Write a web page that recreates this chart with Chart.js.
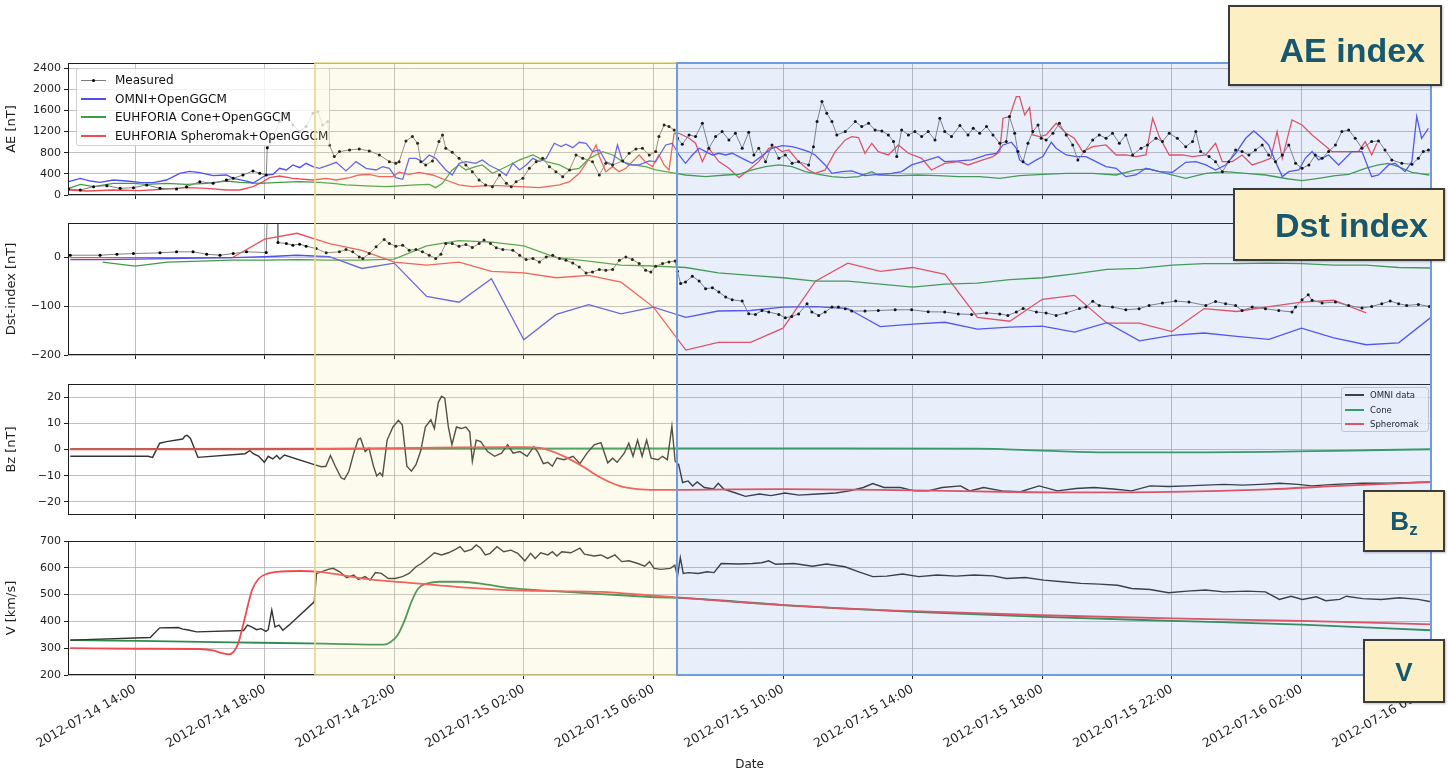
<!DOCTYPE html>
<html>
<head>
<meta charset="utf-8">
<title>AE, Dst, Bz and V, 14-16 July 2012</title>
<script src="https://cdn.jsdelivr.net/npm/chart.js@4.4.1/dist/chart.umd.min.js"></script>
<style>
  html, body { margin: 0; padding: 0; background: #fff; }
  #page { position: relative; width: 1450px; height: 776px; overflow: hidden; font-family: "DejaVu Sans", sans-serif; }
  #page canvas { position: absolute; left: 0; }
  .shade { position: absolute; box-sizing: border-box; pointer-events: none; }
  #shadeY { background: rgba(246, 230, 150, 0.17); border: 2px solid rgba(230, 214, 140, 0.8); border-right: none; }
  #shadeB { background: rgba(105, 145, 222, 0.15); border: 2px solid #6d9ddb; }
  .legend { position: absolute; background: rgba(255, 255, 255, 0.8); border: 1px solid #cfcfcf; border-radius: 3px; box-sizing: border-box; color: #111; }
  .legend .row { position: relative; white-space: nowrap; }
  .legend .sw { position: absolute; top: 50%; height: 0; border-top: 2px solid; }
  #lgAE { left: 76px; top: 68px; width: 254px; height: 78px; font-size: 12px; padding-top: 2px; }
  #lgAE .row { height: 18.5px; line-height: 18.5px; padding-left: 38px; }
  #lgAE .sw { left: 4px; width: 25px; margin-top: -1px; }
  #lgAE .sw.meas { border-top: 1px solid #7a7a7a; margin-top: 0; }
  #lgAE .sw.meas::after { content: ""; position: absolute; left: 11px; top: -2.5px; width: 3px; height: 3px; border-radius: 50%; background: #000; }
  #lgBz { left: 1341px; top: 387px; width: 88px; height: 45px; font-size: 9.5px; font-family: "DejaVu Sans Condensed", "DejaVu Sans", sans-serif; padding-top: 0; }
  #lgBz .row { height: 14.5px; line-height: 14.5px; padding-left: 28px; }
  #lgBz .sw { left: 3px; width: 19px; margin-top: -1px; }
  .tag { position: absolute; box-sizing: border-box; background: #fdefc4; border: 2px solid #3b3b3b; color: #17586f; font-family: "Liberation Sans", Arial, sans-serif; font-weight: bold; box-shadow: 1px 1px 2px rgba(0, 0, 0, 0.25); white-space: nowrap; }
  #tagAE { left: 1228px; top: 5px; width: 214px; height: 81px; font-size: 34px; line-height: 34px; text-align: right; padding: 26px 15px 0 0; }
  #tagDst { left: 1233px; top: 188px; width: 212px; height: 73px; font-size: 34px; line-height: 34px; text-align: right; padding: 18px 15px 0 0; }
  #tagBz { left: 1363px; top: 490px; width: 82px; height: 62px; font-size: 26px; line-height: 26px; text-align: center; padding-top: 16px; }
  #tagBz sub { font-size: 17px; vertical-align: -5px; line-height: 0; }
  #tagV { left: 1363px; top: 639px; width: 82px; height: 64px; font-size: 26px; line-height: 26px; text-align: center; padding-top: 18px; }
</style>
</head>
<body>
<div id="page">
  <canvas id="cAE" width="1450" height="157" style="top:50px"></canvas>
  <canvas id="cDst" width="1450" height="157" style="top:210px"></canvas>
  <canvas id="cBz" width="1450" height="156" style="top:371px"></canvas>
  <canvas id="cV" width="1450" height="248" style="top:528px"></canvas>

  <div id="lgAE" class="legend">
    <div class="row"><span class="sw meas"></span>Measured</div>
    <div class="row"><span class="sw" style="border-color:#4f4ff0"></span>OMNI+OpenGGCM</div>
    <div class="row"><span class="sw" style="border-color:#3f9c46"></span>EUHFORIA Cone+OpenGGCM</div>
    <div class="row"><span class="sw" style="border-color:#ee4b57"></span>EUHFORIA Spheromak+OpenGGCM</div>
  </div>
  <div id="lgBz" class="legend">
    <div class="row"><span class="sw" style="border-color:#333"></span>OMNI data</div>
    <div class="row"><span class="sw" style="border-color:#2f9a5a"></span>Cone</div>
    <div class="row"><span class="sw" style="border-color:#ee4a50"></span>Spheromak</div>
  </div>

  <div id="shadeY" class="shade"></div>
  <div id="shadeB" class="shade"></div>

  <div id="tagAE" class="tag">AE index</div>
  <div id="tagDst" class="tag">Dst index</div>
  <div id="tagBz" class="tag">B<sub>z</sub></div>
  <div id="tagV" class="tag">V</div>
</div>
<script>
// time axis: hours since 2012-07-14 00:00 UT
const xRange = [11.93, 54];
const xTickHours = [14, 18, 22, 26, 30, 34, 38, 42, 46, 50, 54];
const shadeYellow = [19.56, 30.72];
const shadeBlue = [30.72, 54];

// ---- AE index [nT]
const aeMeasT = [
  11.95,12.31,12.72,13.13,13.54,13.95,14.36,14.77,15.28,15.59,
  16.0,16.41,16.82,17.03,17.33,17.64,17.85,18.05,18.08,18.26,
  18.46,18.67,18.87,19.08,19.28,19.49,19.64,19.79,19.95,20.0,
  20.15,20.31,20.62,20.92,21.23,21.54,21.85,22.05,22.15,22.36,
  22.56,22.72,22.82,22.97,23.18,23.38,23.49,23.59,23.79,24.0,
  24.21,24.41,24.62,24.82,25.03,25.25,25.46,25.61,25.76,25.97,
  26.17,26.38,26.58,26.79,26.99,27.2,27.41,27.61,27.82,28.12,
  28.33,28.53,28.74,29.05,29.25,29.46,29.66,29.87,30.07,30.17,
  30.33,30.48,30.64,30.74,30.89,31.1,31.3,31.51,31.71,31.92,
  32.12,32.33,32.53,32.74,32.94,33.1,33.25,33.46,33.66,33.87,
  34.07,34.28,34.48,34.79,34.94,35.05,35.2,35.35,35.51,35.66,
  35.92,36.23,36.43,36.64,36.84,37.05,37.25,37.41,37.51,37.66,
  37.87,38.07,38.28,38.48,38.69,38.84,38.99,39.2,39.46,39.71,
  39.87,40.07,40.28,40.48,40.69,40.89,40.99,41.15,41.25,41.41,
  41.56,41.71,41.87,41.97,42.12,42.33,42.53,42.74,42.94,43.1,
  43.3,43.56,43.76,43.97,44.17,44.38,44.58,44.79,45.05,45.25,
  45.51,45.71,45.92,46.17,46.43,46.64,46.74,46.89,47.15,47.35,
  47.56,47.76,47.97,48.17,48.38,48.58,48.79,48.99,49.2,49.41,
  49.61,49.82,50.02,50.23,50.43,50.64,50.84,51.05,51.25,51.46,
  51.66,51.87,52.17,52.38,52.58,52.79,53.1,53.41,53.61,53.76,
  53.92];
const aeMeasV = [
  114,95,158,177,126,139,190,126,114,158,
  253,221,284,316,379,455,411,379,897,1074,
  1390,1548,1327,1201,1296,1548,1580,1327,1390,948,
  727,822,853,872,834,758,632,600,632,1024,
  1106,980,632,569,645,1011,1138,885,809,695,
  569,442,284,190,158,379,221,158,253,316,
  506,632,695,537,442,348,474,758,695,632,
  379,600,569,645,790,872,885,758,822,1106,
  1327,1296,1232,1074,961,1138,1106,1359,885,1106,
  1201,1043,1169,885,1188,758,885,632,948,695,
  758,600,632,569,916,1390,1770,1548,1390,1138,
  1201,1390,1296,1359,1232,1213,1138,1011,727,1232,
  1138,1201,1106,1201,1043,1454,1201,1106,1315,1138,
  1264,1169,1296,1138,980,1011,1485,1169,822,632,
  980,1201,1327,1074,1043,1169,1359,1138,948,664,
  822,1043,1138,1074,1169,980,1138,758,885,948,
  1074,1011,1169,1074,916,1011,1201,822,727,632,
  442,632,853,822,758,853,948,758,632,758,
  948,600,506,569,758,695,822,948,1201,1232,
  1074,885,1011,1024,853,664,600,581,695,822,
  853];

const aeOmniT = [
  11.95,12.31,12.62,12.92,13.33,13.74,14.15,14.56,14.97,15.38,
  15.69,16.0,16.41,16.82,17.03,17.44,17.64,17.85,18.05,18.26,
  18.46,18.67,18.87,19.08,19.28,19.49,19.69,20.0,20.21,20.51,
  20.82,21.13,21.44,21.64,21.85,22.05,22.26,22.46,22.67,22.87,
  23.08,23.28,23.59,23.79,24.0,24.21,24.51,24.72,24.92,25.23,
  25.46,25.66,25.87,26.07,26.28,26.48,26.69,26.94,27.15,27.3,
  27.51,27.71,27.92,28.12,28.33,28.53,28.74,28.89,29.05,29.25,
  29.56,29.87,30.07,30.38,30.58,30.79,30.99,31.2,31.41,31.61,
  31.82,32.02,32.23,32.43,32.74,33.05,33.25,33.66,33.97,34.28,
  34.48,34.79,34.99,35.3,35.51,35.82,36.12,36.53,36.94,37.35,
  37.66,37.97,38.38,38.79,38.99,39.41,39.82,40.28,40.58,40.79,
  41.05,41.2,41.3,41.56,41.82,42.02,42.28,42.43,42.74,43.05,
  43.35,43.66,43.97,44.28,44.58,44.89,45.2,45.61,46.02,46.43,
  46.74,47.05,47.35,47.66,47.97,48.28,48.53,48.79,48.99,49.2,
  49.41,49.61,49.92,50.12,50.33,50.53,50.84,51.15,51.56,51.87,
  52.17,52.38,52.69,52.89,53.2,53.41,53.56,53.71,53.92];
const aeOmniV = [
  253,316,265,240,284,265,240,234,284,411,
  449,423,367,379,316,265,228,303,379,392,
  506,474,569,518,600,537,506,569,619,455,
  632,506,474,537,506,329,297,695,695,632,
  758,695,474,379,600,632,600,664,569,474,
  367,600,474,569,695,632,695,980,916,961,
  897,999,980,822,853,632,569,948,632,569,
  569,645,632,948,980,758,600,758,885,822,
  758,790,758,790,695,600,695,885,935,916,
  885,822,758,569,411,442,455,367,392,411,
  442,569,645,727,632,645,664,758,790,948,
  999,885,664,569,664,727,999,885,758,727,
  727,632,537,506,348,379,506,442,430,619,
  632,569,474,569,790,1074,1213,1074,948,632,
  348,442,474,695,822,664,758,569,822,822,
  348,379,569,600,442,632,1485,1074,1264];

const aeConeT = [
  11.95,12.31,12.72,13.33,13.95,14.36,14.97,15.59,16.21,16.82,
  17.23,17.85,18.46,19.08,19.69,20.1,20.51,21.13,21.74,22.15,
  22.67,23.08,23.28,23.49,23.79,24.0,24.21,24.51,24.72,25.03,
  25.25,25.56,25.87,26.28,26.69,27.1,27.41,27.71,28.02,28.43,
  28.74,29.05,29.35,29.76,30.07,30.38,30.69,30.99,31.61,32.23,
  32.64,33.05,33.46,33.87,34.28,34.69,35.1,35.51,35.92,36.33,
  36.74,36.94,37.56,38.17,38.79,39.41,40.07,40.69,41.3,42.02,
  42.74,43.56,44.28,44.89,45.3,45.82,46.43,47.05,47.66,48.28,
  48.89,49.61,50.02,50.53,51.05,51.46,51.97,52.38,52.69,52.99,
  53.41,53.95];
const aeConeV = [
  126,202,158,221,221,202,221,202,221,265,
  240,221,240,253,240,221,190,171,158,171,
  190,202,139,221,474,569,474,537,569,411,
  474,569,664,758,632,569,474,506,695,822,
  758,632,569,537,474,442,411,379,348,379,
  392,474,537,569,537,442,392,348,329,348,
  442,379,367,379,367,348,348,316,367,392,
  411,411,379,474,493,411,316,411,442,411,
  379,303,272,316,367,392,506,569,600,537,
  430,379];

const aeSpherT = [
  11.95,12.51,13.33,14.15,14.97,15.59,16.21,16.82,17.23,17.64,
  17.95,18.15,18.46,18.87,19.49,19.9,20.21,20.62,20.92,21.23,
  21.54,21.95,22.15,22.46,22.77,23.18,23.59,24.0,24.41,24.82,
  25.23,25.87,26.48,27.1,27.41,27.71,28.02,28.23,28.33,28.53,
  28.74,28.94,29.15,29.35,29.56,29.76,29.97,30.17,30.33,30.48,
  30.64,30.79,31.1,31.3,31.51,31.71,32.02,32.33,32.64,32.94,
  33.25,33.56,33.76,33.97,34.18,34.48,34.79,34.99,35.3,35.61,
  35.92,36.12,36.33,36.53,36.74,36.94,37.25,37.56,37.87,38.28,
  38.58,38.99,39.41,39.71,40.17,40.48,40.69,40.79,40.99,41.2,
  41.3,41.46,41.61,41.71,41.92,42.12,42.43,42.74,42.99,43.25,
  43.56,43.97,44.28,44.58,44.89,45.2,45.41,45.61,45.92,46.33,
  46.64,47.05,47.35,47.56,47.87,48.17,48.48,48.79,49.05,49.25,
  49.41,49.71,50.02,50.33,50.64,50.94,51.35,51.76,51.97,52.17,
  52.33];
const aeSpherV = [
  95,76,95,82,114,139,126,95,95,158,
  253,329,360,316,284,316,284,329,379,392,
  348,348,430,392,430,379,284,190,158,177,
  177,158,139,190,253,411,695,948,727,442,
  537,442,506,632,758,619,537,758,569,474,
  1169,1169,1074,980,632,885,632,506,329,474,
  632,885,916,822,853,632,474,411,474,822,
  1043,1106,1087,790,980,822,758,948,790,695,
  474,600,632,569,664,727,822,1454,1485,1864,
  1864,1517,1656,1138,1106,1138,1359,1169,1074,822,
  916,948,758,758,727,758,1454,1106,758,758,
  727,758,980,632,632,758,569,632,695,1201,
  695,1422,1327,1138,980,822,822,822,1011,758,
  980];

// ---- Dst index [nT]
const dstMeasT = [
  12.0,12.92,13.44,13.95,14.77,15.28,15.79,16.21,16.62,17.03,
  17.44,18.05,18.08,18.39,18.41,18.67,18.87,19.08,19.28,19.59,
  19.9,20.31,20.51,20.72,20.92,21.03,21.23,21.44,21.69,21.85,
  22.05,22.26,22.46,22.67,22.87,23.08,23.28,23.44,23.59,23.79,
  24.0,24.21,24.41,24.62,24.77,24.97,25.15,25.35,25.66,25.87,
  26.07,26.28,26.48,26.69,26.89,27.1,27.3,27.51,27.71,27.92,
  28.12,28.33,28.53,28.74,28.95,29.15,29.35,29.56,29.76,29.92,
  30.07,30.28,30.48,30.67,30.74,30.84,30.99,31.2,31.41,31.61,
  31.82,32.02,32.23,32.43,32.74,32.94,33.15,33.35,33.56,33.87,
  34.07,34.27,34.48,34.74,34.89,35.1,35.3,35.51,35.71,35.92,
  36.12,36.53,36.94,37.46,37.97,38.48,38.99,39.41,39.82,40.28,
  40.69,40.94,41.2,41.41,41.82,42.12,42.43,42.74,43.15,43.35,
  43.56,43.76,44.17,44.58,44.99,45.3,45.71,46.12,46.53,47.05,
  47.35,47.66,47.97,48.17,48.48,48.89,49.3,49.71,49.82,50.02,
  50.21,50.33,50.64,51.05,51.46,51.87,52.17,52.48,52.74,53.0,
  53.25,53.61,53.95];
const dstMeasV = [
  4.1,4.1,6.2,7.5,8.9,11,11,6.2,4.1,7.5,
  11,9.6,90,90,30,28,24.7,26.7,22.6,17.8,
  8.9,11,15.8,11,0.7,-2.7,7.5,21.2,36.3,28,
  22.6,24.7,14.4,15.8,11,4.1,-2.7,6.2,28,28,
  22.6,26,19.9,28,35,28,19.2,15.8,14.4,4.1,
  -4.8,-2.7,-9.6,0.7,4.1,-2.7,-6.2,-11.6,-19.9,-32.2,
  -30.1,-25.3,-26.7,-25.3,-6.2,0.7,-4.8,-13,-26.7,-30.1,
  -18.5,-13,-9.6,-7.5,-28.8,-54,-50.7,-39,-48.6,-64.4,
  -62.3,-71.2,-81.5,-87,-89.7,-115.8,-117,-109,-112,-117,
  -124,-121,-116,-95,-112,-119,-112,-102,-102,-105.5,
  -110,-110,-109,-107.5,-107.5,-111.6,-112,-116,-117,-114,
  -116,-119,-112,-105,-112,-114,-119,-114,-105,-102,
  -90,-99,-102,-107.5,-105.5,-98.6,-93.8,-89.7,-91.8,-98.6,
  -90.4,-95.2,-98.6,-109,-102,-105.5,-109,-112,-102,-87,
  -76.7,-88,-93.8,-91.8,-98.6,-104,-100.7,-95.2,-89.7,-95.2,
  -98.6,-96.6,-100.7];

// model Dst is hourly
const dstHours = [
  12,13,14,15,16,17,18,19,20,21,22,23,24,25,26,27,28,29,30,31,32,33,
  34,35,36,37,38,39,40,41,42,43,44,45,46,47,48,49,50,51,52,53,54];
const dstOmniV = [
  -5,-5,-4,-3,-2,-1,1,4,1,-23,
  -12,-80,-92,-44,-169,-117,-97,-116,-102,-123,
  -110,-109,-102,-101,-105,-142,-137,-133,-147,-143,
  -141,-153,-134,-171,-160,-155,-162,-168,-145,-165,
  -179,-175,-123];
const dstConeV = [ // from 13 h
  -10,-18,-10,-8,-6,-6,-5,-6,-6,-4,
  23,34,31,23,-1,-8,-16,-18,-21,-32,
  -37,-42,-49,-49,-55,-61,-55,-53,-46,-42,
  -34,-25,-23,-16,-13,-13,-12,-13,-16,-16,
  -21,-22];
const dstSpherV = [ // to 52 h
  -1,-1,-1,-1,-1,-1,37,49,28,14,
  -10,-16,-10,-29,-32,-42,-37,-51,-102,-190,
  -174,-174,-145,-49,-12,-29,-21,-35,-123,-131,
  -86,-78,-135,-135,-152,-105,-111,-101,-92,-88,
  -114];

// ---- Bz [nT]
const bzOmniT = [
  12.0,14.4,14.54,14.76,14.97,15.47,15.54,15.61,15.71,15.94,
  17.4,17.54,17.65,17.82,17.99,18.11,18.25,18.37,18.47,18.61,
  19.53,19.75,19.89,20.03,20.18,20.36,20.46,20.6,20.75,20.89,
  20.96,21.1,21.22,21.36,21.46,21.56,21.64,21.78,21.96,22.13,
  22.25,22.39,22.53,22.67,22.82,22.96,23.13,23.24,23.36,23.46,
  23.56,23.67,23.78,23.92,24.07,24.21,24.33,24.41,24.53,24.67,
  24.88,25.1,25.31,25.5,25.67,25.88,26.1,26.31,26.45,26.6,
  26.74,26.88,27.02,27.24,27.52,27.73,27.95,28.17,28.38,28.59,
  28.74,28.88,29.1,29.24,29.37,29.51,29.65,29.79,29.93,30.14,
  30.28,30.43,30.57,30.67,30.78,30.9,31.07,31.21,31.35,31.57,
  31.85,32.0,32.17,32.49,32.84,33.27,33.63,34.06,34.49,35.06,
  35.63,36.05,36.48,36.77,37.12,37.62,38.05,38.48,38.91,39.48,
  39.76,40.19,40.76,41.33,41.9,42.47,43.04,43.61,44.19,44.76,
  45.33,45.9,46.47,47.04,47.61,48.18,48.75,49.33,49.89,50.32,
  51.03,51.89,52.74,53.46,54.0];
const bzOmniV = [
  -2.6,-2.6,-3,2.4,3,4,5.1,5.4,4.2,-3,
  -1.6,-0.4,-1.6,-2.6,-4.9,-2.6,-3.6,-2.3,-3.6,-2.1,
  -5.8,-6.6,-6.4,-2.3,-6.4,-10.8,-11.4,-8.3,-1.4,3.9,
  4.3,-0.8,0.5,-6.4,-10.1,-8.9,-10.1,3.6,8.6,11.1,
  9.3,-6.4,-8.3,-5.8,-0.4,8.6,11.4,8,18,20.3,
  19.6,8.6,1.8,8.6,8,8.6,6.8,-4.5,3.6,3,
  -0.8,-2.6,-1.4,1.8,-1.4,-0.8,-2.6,1.1,-1.4,-5.4,
  -4.9,-6.4,-3.3,-3.9,-2.6,-5.4,-1.4,1.8,2.6,-5.1,
  -3.3,-4.9,-1.4,2.4,-2.6,3.6,-2.6,3.6,-3.3,-3.9,
  -2.6,-3.9,8.9,-4.5,-5.8,-12.6,-12,-13.9,-12.4,-14.5,
  -15.1,-12.9,-15.1,-16.4,-17.9,-17,-17.6,-16.6,-17.4,-17,
  -16.6,-15.8,-14.5,-13,-14.5,-14.5,-15.8,-15.8,-14.5,-13.9,
  -15.8,-14.5,-15.8,-16.1,-13.9,-15.8,-14.9,-14.5,-15.1,-15.8,
  -13.9,-14.1,-13.9,-13.6,-13.3,-13.6,-13.3,-12.9,-13.3,-13.9,
  -13.3,-12.9,-12.9,-12.6,-12.4];
const bzConeT = [12, 20, 30, 36, 40, 42, 44, 47, 49, 51, 54];
const bzConeV = [0.2, 0.3, 0.4, 0.4, 0.3, -0.4, -1.1, -1.1, -0.9, -0.5, 0.1];
const bzSpherT = [12, 18, 20, 22, 24, 26, 26.5, 27.24, 27.81, 28.38, 28.95, 29.51, 30.1, 31, 34, 37, 40, 43, 46, 49, 51, 54];
const bzSpherV = [0.1, 0.1, 0.2, 0.5, 0.8, 0.9, 0.6, -2.6, -6.4, -10.8, -13.9, -15.1, -15.4, -15.4, -15.1, -15.4, -16, -16.4, -16.2, -15.2, -14, -12.4];

// ---- solar wind speed V [km/s]
const vOmniT = [
  12.0,14.47,14.76,15.33,15.47,15.61,15.9,17.35,17.47,17.61,
  17.75,17.89,18.04,18.11,18.22,18.32,18.44,18.56,18.75,19.53,
  19.6,19.68,19.96,20.11,20.32,20.53,20.75,20.89,21.1,21.25,
  21.42,21.6,21.82,22.03,22.25,22.46,22.67,22.84,23.03,23.24,
  23.46,23.67,23.89,24.03,24.17,24.39,24.53,24.67,24.81,24.96,
  25.17,25.38,25.6,25.81,26.03,26.21,26.35,26.52,26.74,26.88,
  27.02,27.17,27.45,27.73,27.87,28.17,28.38,28.59,28.81,29.02,
  29.24,29.52,29.73,29.88,30.02,30.23,30.52,30.66,30.74,30.83,
  30.92,31.09,31.38,31.66,31.87,32.09,32.63,33.06,33.34,33.56,
  33.77,34.34,34.91,35.34,35.91,36.34,36.77,37.2,37.69,38.19,
  38.76,39.34,39.91,40.48,40.9,41.48,42.05,42.62,43.19,43.76,
  44.33,44.76,45.33,45.9,46.47,47.04,47.61,48.32,48.89,49.32,
  49.68,50.03,50.46,50.75,51.18,51.39,51.89,52.46,53.03,53.6,
  54.0];
const vOmniV = [
  330,340,376,377,371,369,361,366,386,379,
  369,373,363,369,442,379,386,367,386,473,
  579,582,594,598,585,563,573,557,567,554,
  582,579,560,560,567,579,604,616,635,656,
  648,656,669,679,660,669,685,673,648,654,
  679,660,666,654,626,654,635,656,648,660,
  644,660,656,673,651,644,648,635,648,623,
  626,616,606,623,598,594,598,610,567,638,
  579,582,579,585,582,616,614,616,619,626,
  613,616,606,614,604,585,567,569,577,567,
  573,569,573,570,560,564,554,548,542,539,
  535,523,519,507,513,517,510,513,510,482,
  494,482,492,477,482,494,485,482,488,482,
  473];
const vConeT = [12.0,14.11,16.97,19.82,21.67,21.89,22.1,22.32,22.53,22.74,23.03,23.39,24.1,24.81,25.53,26.95,28.38,29.81,31.23,32.2,34,38,42,46,50,54];
const vConeV = [330,327,322,317,313,323,348,404,473,523,542,548,548,538,525,513,502,492,485,477,461,436,417,402,388,367];
const vSpherT = [12.0,14.11,15.97,16.4,16.68,16.9,17.04,17.18,17.32,17.47,17.61,17.82,18.11,18.39,19.11,19.68,21.25,22.67,24.1,25.53,26.95,28.38,29.81,31.23,32.2,34,38,42,46,50,54];
const vSpherV = [300,298,297,292,282,277,286,317,379,454,517,560,579,585,588,585,557,542,527,517,513,510,498,485,476,461,438,423,411,402,389];

// ---------------------------------------------------------------
const GRID = 'rgba(150,150,150,0.6)';
const INK = '#1e1e1e';

function stamp(h) {
  const day = 14 + Math.floor(h / 24);
  const hh = Math.round(h % 24);
  return '2012-07-' + day + ' ' + String(hh).padStart(2, '0') + ':00';
}
function pts(t, v) { return v.map((y, i) => ({ x: t[i], y })); }
function ticksAt(values) { return scale => { scale.ticks = values.map(value => ({ value })); }; }
function line(t, v, color, width, extra) {
  return Object.assign({
    data: pts(t, v), borderColor: color, backgroundColor: color,
    borderWidth: width, pointRadius: 0, fill: false, tension: 0
  }, extra || {});
}
const measuredStyle = { pointRadius: 1.5, pointBackgroundColor: '#000', pointBorderWidth: 0 };
const smooth = { cubicInterpolationMode: 'monotone' };

const framePlugin = {
  id: 'frame',
  afterDatasetsDraw(chart) {
    const { ctx, chartArea: a } = chart;
    ctx.save();
    ctx.strokeStyle = INK;
    ctx.lineWidth = 1;
    ctx.strokeRect(Math.round(a.left) + 0.5, Math.round(a.top) + 0.5,
      Math.round(a.right - a.left) - 1, Math.round(a.bottom - a.top) - 1);
    ctx.restore();
  }
};

function panel(id, datasets, y, xHeight, withDates) {
  return new Chart(document.getElementById(id), {
    type: 'line',
    data: { datasets },
    options: {
      responsive: false, animation: false, devicePixelRatio: 1, events: [],
      layout: { autoPadding: false, padding: { top: 13, right: 19, bottom: 0, left: 0 } },
      plugins: { legend: { display: false }, tooltip: { enabled: false } },
      scales: {
        x: {
          type: 'linear', min: xRange[0], max: xRange[1],
          afterBuildTicks: ticksAt(xTickHours),
          afterFit: s => { s.height = xHeight; },
          grid: { color: GRID, lineWidth: 1, tickColor: INK, tickLength: 4 },
          border: { display: false },
          ticks: {
            display: withDates, autoSkip: false, minRotation: 30, maxRotation: 30, padding: 3,
            color: INK, font: { family: 'DejaVu Sans', size: 12.5 }, callback: v => stamp(v)
          },
          title: {
            display: withDates, text: 'Date', color: INK,
            font: { family: 'DejaVu Sans', size: 12 }, padding: { top: 0, bottom: 4 }
          }
        },
        y: {
          min: y.range[0], max: y.range[1],
          afterBuildTicks: ticksAt(y.ticks),
          afterFit: s => { s.width = 68; },
          grid: { color: GRID, lineWidth: 1, tickColor: INK, tickLength: 4 },
          border: { display: false },
          ticks: {
            color: INK, font: { family: 'DejaVu Sans', size: 11 }, padding: 3,
            callback: v => String(v).replace('-', '\u2212')
          },
          title: {
            display: true, text: y.title, color: INK,
            font: { family: 'DejaVu Sans', size: 13 }, padding: { top: 4, bottom: 0 }
          }
        }
      }
    },
    plugins: [framePlugin]
  });
}

const cAE = panel('cAE', [
  line(aeMeasT, aeMeasV, '#808080', 1, measuredStyle),
  line(aeOmniT, aeOmniV, '#4f4ff0', 1.3),
  line(aeConeT, aeConeV, '#3f9c46', 1.3),
  line(aeSpherT, aeSpherV, '#ee4b57', 1.3)
], { range: [0, 2500], ticks: [0, 400, 800, 1200, 1600, 2000, 2400], title: 'AE [nT]' }, 12, false);

const cDst = panel('cDst', [
  line(dstMeasT, dstMeasV, '#808080', 1, measuredStyle),
  line(dstHours, dstOmniV, '#4f4ff0', 1.3),
  line(dstHours.slice(1), dstConeV, '#3f9c46', 1.3),
  line(dstHours.slice(0, dstSpherV.length), dstSpherV, '#ee4b57', 1.3)
], { range: [-200, 70], ticks: [-200, -100, 0], title: 'Dst-index [nT]' }, 12, false);

const cBz = panel('cBz', [
  line(bzOmniT, bzOmniV, '#333333', 1.4, { order: 1 }),
  line(bzConeT, bzConeV, '#2f9a5a', 1.8, Object.assign({ order: 2 }, smooth)),
  line(bzSpherT, bzSpherV, '#ee4a50', 1.8, Object.assign({ order: 0 }, smooth))
], { range: [-25, 25], ticks: [-20, -10, 0, 10, 20], title: 'Bz [nT]' }, 12, false);

const cV = panel('cV', [
  line(vOmniT, vOmniV, '#333333', 1.4, { order: 1 }),
  line(vConeT, vConeV, '#2f8a50', 1.8, Object.assign({ order: 2 }, smooth)),
  line(vSpherT, vSpherV, '#ee4a50', 1.8, Object.assign({ order: 0 }, smooth))
], { range: [200, 700], ticks: [200, 300, 400, 500, 600, 700], title: 'V [km/s]' }, 101, true);

// shaded intervals spanning all four panels
(function placeShades() {
  const xs = cV.scales.x;
  const top = cAE.canvas.offsetTop + cAE.chartArea.top;
  const bottom = cV.canvas.offsetTop + cV.chartArea.bottom;
  function place(el, from, to) {
    const l = xs.getPixelForValue(from), r = xs.getPixelForValue(to);
    el.style.left = Math.round(l - 1) + 'px';
    el.style.width = Math.round(r - l + 2) + 'px';
    el.style.top = Math.round(top - 1) + 'px';
    el.style.height = Math.round(bottom - top + 2) + 'px';
  }
  place(document.getElementById('shadeY'), shadeYellow[0], shadeYellow[1]);
  place(document.getElementById('shadeB'), shadeBlue[0], shadeBlue[1]);
})();
</script>
</body>
</html>
